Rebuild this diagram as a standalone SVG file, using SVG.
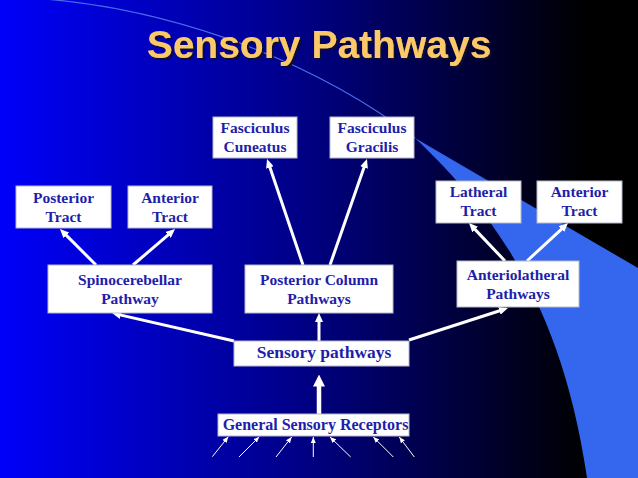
<svg xmlns="http://www.w3.org/2000/svg" width="638" height="478" viewBox="0 0 638 478">
  <defs>
    <linearGradient id="bg" x1="0" y1="0" x2="1" y2="0">
      <stop offset="0" stop-color="#0000fa"/>
      <stop offset="0.45" stop-color="#00008c"/>
      <stop offset="0.92" stop-color="#000000"/>
      <stop offset="1" stop-color="#000000"/>
    </linearGradient>
    <filter id="shadow" x="-5%" y="-20%" width="110%" height="140%">
      <feDropShadow dx="2" dy="2" stdDeviation="0.6" flood-color="#10102a" flood-opacity="0.95"/>
    </filter>
    <marker id="head" viewBox="0 0 9 8" markerUnits="userSpaceOnUse" markerWidth="9" markerHeight="8" refX="2" refY="4" orient="auto">
      <path d="M0,0 L9,4 L0,8 z" fill="#ffffff"/>
    </marker>
    <marker id="bighead" viewBox="0 0 12 12" markerUnits="userSpaceOnUse" markerWidth="12" markerHeight="12" refX="0.5" refY="6" orient="auto">
      <path d="M0,0 L12,6 L0,12 z" fill="#ffffff"/>
    </marker>
    <marker id="smallhead" viewBox="0 0 6 5" markerUnits="userSpaceOnUse" markerWidth="6" markerHeight="5" refX="6" refY="2.5" orient="auto">
      <path d="M0,0 L6,2.5 L0,5 z" fill="#ffffff"/>
    </marker>
  </defs>
  <style>
    .box { fill: #ffffff; stroke: #b8b8c8; stroke-width: 1; }
    .lbl { font-family: "Liberation Serif", "Times New Roman", serif; font-weight: bold; font-size: 15.5px; fill: #1e1eaa; text-anchor: middle; }
    .conn { stroke: #ffffff; stroke-width: 3; fill: none; marker-end: url(#head); }
    .thin { stroke: #ffffff; stroke-width: 1; fill: none; marker-end: url(#smallhead); }
    .title { font-family: "Liberation Sans", Arial, sans-serif; font-weight: bold; font-size: 39px; text-anchor: middle; fill: #fbc86a; filter: url(#shadow); }
  </style>

  <!-- background -->
  <rect x="0" y="0" width="638" height="478" fill="url(#bg)"/>
  <path d="M30,-2 C150,5 300,50 415,138" fill="none" stroke="#4a6ae8" stroke-width="1.2"/>
  <path d="M415,138 L638,268 L638,478 L587,478 C560,290 480,200 415,138 z" fill="#3566ee"/>

  <!-- title -->
  <text class="title" x="319" y="58">Sensory Pathways</text>

  <!-- connectors -->
  <g id="connectors">
    <line class="conn" x1="96" y1="265" x2="64.9" y2="233.9"/>
    <line class="conn" x1="133" y1="265" x2="169.7" y2="233.6"/>
    <line class="conn" x1="303" y1="265" x2="269.3" y2="165.6"/>
    <line class="conn" x1="330" y1="265" x2="364.7" y2="165.6"/>
    <line class="conn" x1="505" y1="261" x2="473.8" y2="228.1"/>
    <line class="conn" x1="527" y1="261" x2="562.9" y2="227.8"/>
    <line class="conn" x1="234" y1="341" x2="118.8" y2="314.6"/>
    <line class="conn" x1="319" y1="341" x2="319" y2="320"/>
    <line class="conn" x1="409" y1="340" x2="501.3" y2="310.2"/>
    <line x1="319" y1="414" x2="319" y2="386" stroke="#ffffff" stroke-width="4.5" marker-end="url(#bighead)"/>
    <line class="thin" x1="212.3" y1="456.7" x2="228.3" y2="436.7"/>
    <line class="thin" x1="239" y1="457" x2="259.3" y2="436.7"/>
    <line class="thin" x1="276" y1="457" x2="291.7" y2="437"/>
    <line class="thin" x1="313.3" y1="457" x2="313.3" y2="437"/>
    <line class="thin" x1="350.7" y1="457" x2="330" y2="437"/>
    <line class="thin" x1="393.3" y1="457" x2="373.3" y2="437"/>
    <line class="thin" x1="414.3" y1="457" x2="399.3" y2="437"/>
  </g>

  <!-- nodes -->
  <g id="fasciculus-cuneatus">
    <rect class="box" x="213" y="117" width="84" height="41"/>
    <text class="lbl" x="255" y="133">Fasciculus</text>
    <text class="lbl" x="255" y="152">Cuneatus</text>
  </g>
  <g id="fasciculus-gracilis">
    <rect class="box" x="330" y="117" width="84" height="41"/>
    <text class="lbl" x="372" y="133">Fasciculus</text>
    <text class="lbl" x="372" y="152">Gracilis</text>
  </g>
  <g id="posterior-tract">
    <rect class="box" x="16" y="186" width="95" height="42"/>
    <text class="lbl" x="63.5" y="203">Posterior</text>
    <text class="lbl" x="63.5" y="222">Tract</text>
  </g>
  <g id="anterior-tract-left">
    <rect class="box" x="128" y="186" width="84" height="42"/>
    <text class="lbl" x="170" y="203">Anterior</text>
    <text class="lbl" x="170" y="222">Tract</text>
  </g>
  <g id="latheral-tract">
    <rect class="box" x="436" y="181" width="85" height="42"/>
    <text class="lbl" x="478.5" y="197">Latheral</text>
    <text class="lbl" x="478.5" y="216">Tract</text>
  </g>
  <g id="anterior-tract-right">
    <rect class="box" x="537" y="181" width="85" height="42"/>
    <text class="lbl" x="579.5" y="197">Anterior</text>
    <text class="lbl" x="579.5" y="216">Tract</text>
  </g>
  <g id="spinocerebellar-pathway">
    <rect class="box" x="48" y="265" width="164" height="48"/>
    <text class="lbl" x="130" y="285">Spinocerebellar</text>
    <text class="lbl" x="130" y="304">Pathway</text>
  </g>
  <g id="posterior-column-pathways">
    <rect class="box" x="245" y="265" width="148" height="48"/>
    <text class="lbl" x="319" y="285">Posterior Column</text>
    <text class="lbl" x="319" y="304">Pathways</text>
  </g>
  <g id="anteriolatheral-pathways">
    <rect class="box" x="457" y="261" width="122" height="46"/>
    <text class="lbl" x="518" y="280">Anteriolatheral</text>
    <text class="lbl" x="518" y="299">Pathways</text>
  </g>
  <g id="sensory-pathways">
    <rect class="box" x="234" y="341" width="175" height="25"/>
    <text class="lbl" x="324" y="358" style="font-size:17.5px">Sensory pathways</text>
  </g>
  <g id="general-sensory-receptors">
    <rect class="box" x="218" y="414" width="191" height="22"/>
    <text class="lbl" x="315.5" y="430" style="font-size:16px">General Sensory Receptors</text>
  </g>
</svg>
